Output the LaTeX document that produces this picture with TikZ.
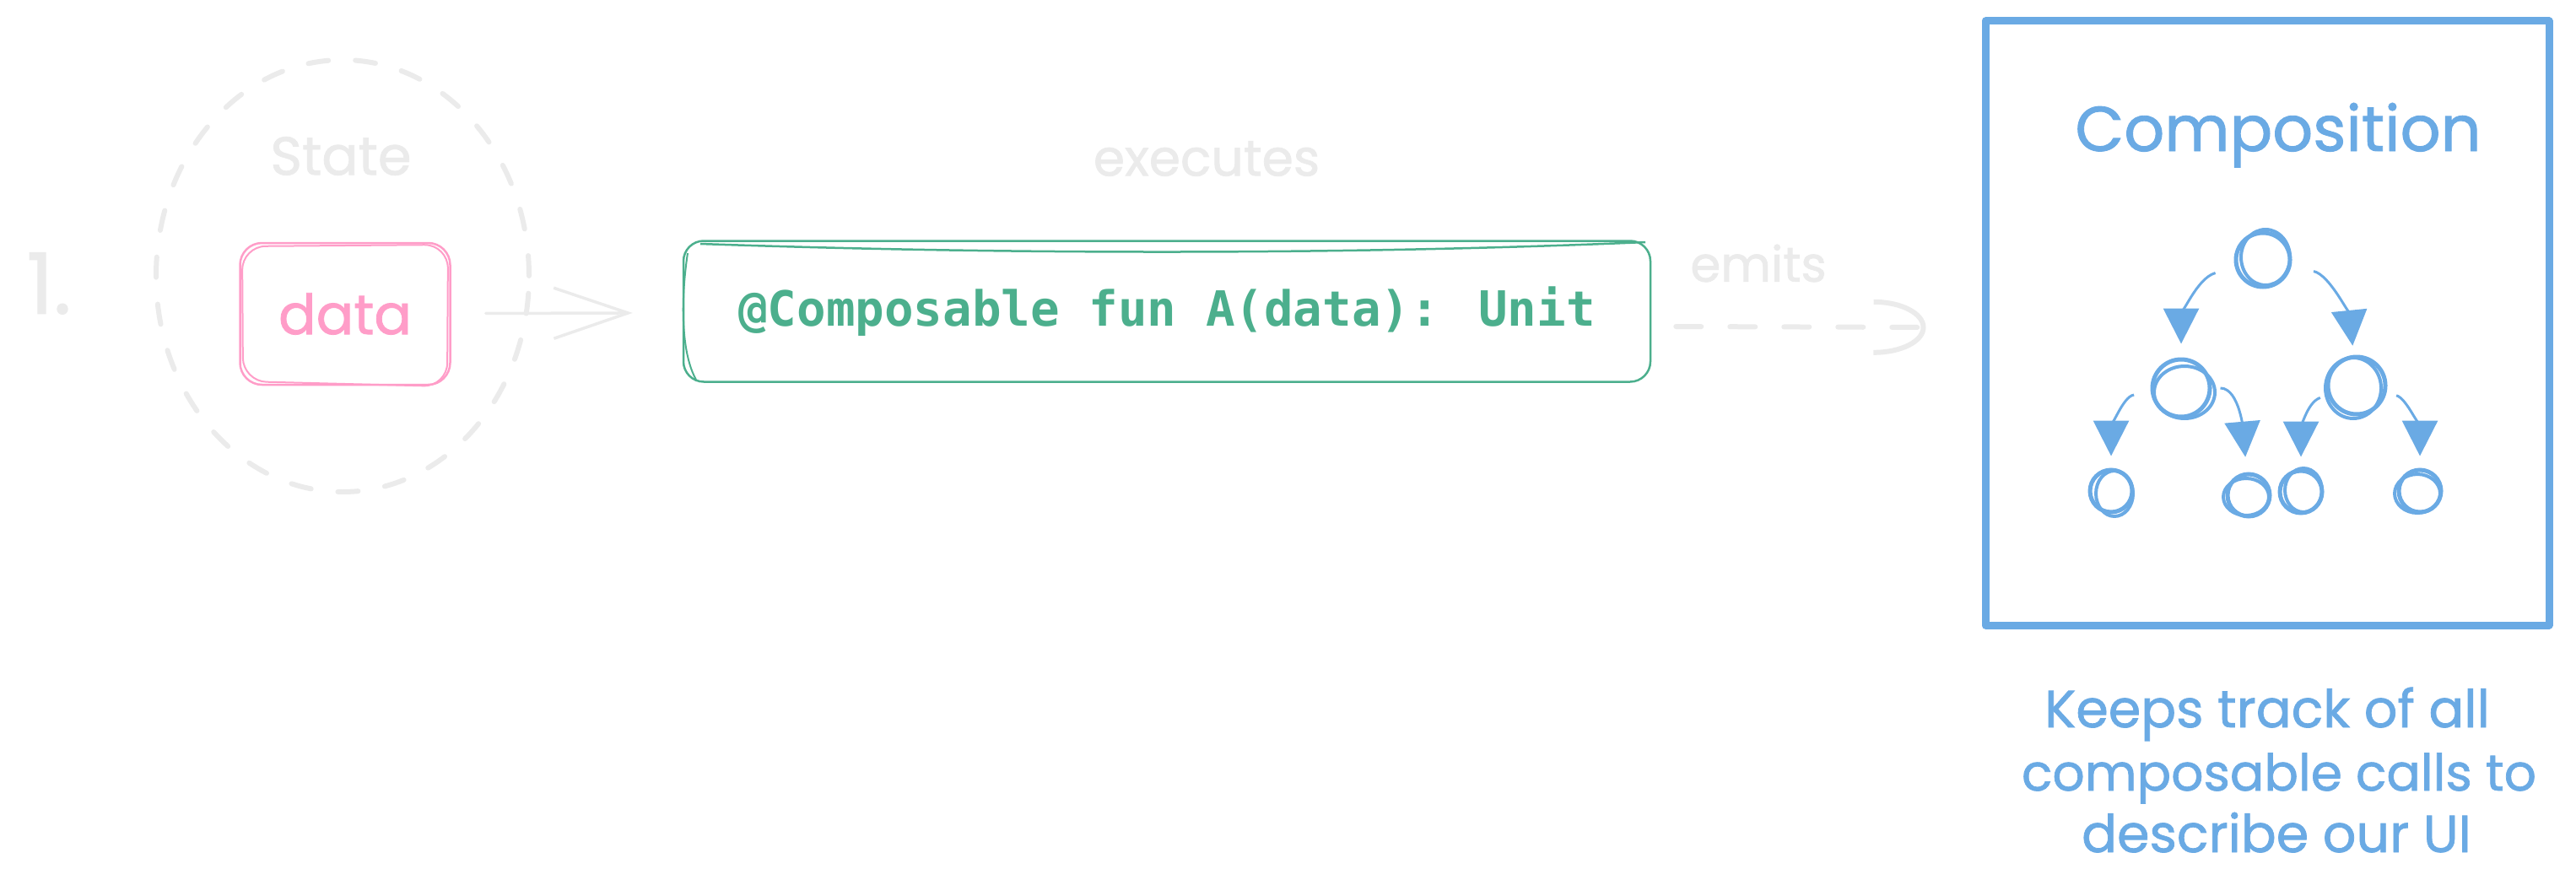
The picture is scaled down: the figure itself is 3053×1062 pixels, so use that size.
\documentclass[tikz,border=0pt]{standalone}
\usepackage{fontspec}
\setmainfont{Poppins}[FakeBold=1.2]
\newfontfamily\codefont{DejaVu Sans Mono}
\usetikzlibrary{arrows.meta,shapes.geometric}
\definecolor{sketchgray}{HTML}{EBEBEB}
\definecolor{pinkc}{HTML}{FF9DC8}
\definecolor{greenc}{HTML}{4CAF8D}
\definecolor{bluec}{HTML}{6AAAE4}
\tikzset{
  faint/.style={text=sketchgray, inner sep=0pt},
  treenode/.style={circle, draw=bluec, line width=5pt, inner sep=0pt},
  treearrow/.style={draw=bluec, line width=3pt, -{Triangle[length=42pt,width=42pt]}},
  grayarrow/.style={draw=sketchgray, line width=3.5pt, line cap=round, -{Straight Barb[length=88pt,width=60pt,line width=3.5pt]}},
  emitarrow/.style={draw=sketchgray, line width=6pt, line cap=round, dash pattern=on 30pt off 34pt, -{Arc Barb[length=62pt,width=66pt,line width=6pt]}},
}
\begin{document}
\begin{tikzpicture}[x=1pt,y=-1pt]
\useasboundingbox (0,0) rectangle (3053,1062);

% step number
\node[faint, font=\fontsize{100}{110}\selectfont] (num) at (58,336) {1.};

% state ellipse
\node[ellipse, draw=sketchgray, line width=6pt, line cap=round, dash pattern=on 24pt off 32pt,
      minimum width=442pt, minimum height=512pt] (st) at (406,327) {};
\node[faint, font=\fontsize{64}{70}\selectfont] (stlabel) at (404,185) {State};

% data box
\node[draw=pinkc, line width=2.5pt, rounded corners=26pt, minimum width=249pt, minimum height=168pt,
      text=pinkc, font=\fontsize{66}{70}\selectfont] (data) at (409,372) {data};
\draw[pinkc, line width=2pt, rounded corners=28pt] (287,292) -- (288,452) -- (530,458) -- (531,290) -- cycle;

% code box
\node[draw=greenc, line width=2.5pt, rounded corners=24pt, minimum width=1146pt, minimum height=167pt,
      text=greenc, font=\codefont\bfseries\fontsize{57.5}{60}\selectfont] (code) at (1383,369) {@Composable fun A(data): Unit};
\draw[greenc, line width=2.5pt] (830,289) .. controls (1200,302) and (1600,302) .. (1950,287);
\draw[greenc, line width=2pt] (815,300) .. controls (806,360) and (808,420) .. (825,450);

\node[faint, font=\fontsize{60}{66}\selectfont] (exec) at (1430,188) {executes};
\node[faint, font=\fontsize{58}{64}\selectfont] (emits) at (2084,312) {emits};

% composition box
\node[draw=bluec, line width=9pt, line join=round, minimum width=668pt, minimum height=716pt] (comp) at (2687,383) {};
\node[text=bluec, inner sep=0pt, anchor=base, font=\fontsize{75}{80}\selectfont] (ctitle) at (2700,179) {Composition};

% connectors between stages
\draw[grayarrow, shorten <=41pt, shorten >=59pt] (data) -- (code);
\draw[emitarrow] ([shift={(29,18)}]code.east) -- ([shift={(-66,5)}]comp.west);

% tree
\node[treenode, minimum size=64pt] (r) at (2682,308) {};
\node[treenode, minimum size=68pt] (ml) at (2585,460) {};
\node[treenode, minimum size=68pt] (mr) at (2793,457) {};
\node[treenode, minimum size=50pt] (l1) at (2502,582) {};
\node[treenode, minimum size=50pt] (l2) at (2665,587) {};
\node[treenode, minimum size=50pt] (l3) at (2727,583) {};
\node[treenode, minimum size=50pt] (l4) at (2868,582) {};
\foreach \n/\dx/\dy/\rx/\ry in {r/3/-3/29/33, ml/4/5/36/31, mr/-4/3/33/36, l1/4/3/22/27, l2/-3/2/27/22, l3/3/-2/22/26, l4/-3/3/27/23}
  \draw[bluec, line width=4pt] ([shift={(\dx,\dy)}]\n.center) ellipse ({\rx} and {\ry});

\draw[treearrow, shorten <=24pt, shorten >=16pt] (r) .. controls +(-80,22) and +(0,-80) .. (ml);
\draw[treearrow, shorten <=27pt, shorten >=11pt] (r) .. controls +(80,18) and +(-8,-80) .. (mr);
\draw[treearrow, shorten <=20pt, shorten >=14pt] (ml) .. controls +(-70,10) and +(0,-70) .. (l1);
\draw[treearrow, shorten <=10pt, shorten >=18pt] (ml) .. controls +(70,0) and +(-6,-70) .. (l2);
\draw[treearrow, shorten <=9pt, shorten >=14pt] (mr) .. controls +(-60,20) and +(0,-70) .. (l3);
\draw[treearrow, shorten <=12pt, shorten >=14pt] (mr) .. controls +(60,15) and +(0,-70) .. (l4);

% description
\node[text=bluec, inner sep=0pt, anchor=base, font=\fontsize{62}{74}\selectfont] (d1) at (2687,862) {Keeps track of all};
\node[text=bluec, inner sep=0pt, anchor=base, font=\fontsize{60}{74}\selectfont] (d2) at (2701,937) {composable calls to};
\node[text=bluec, inner sep=0pt, anchor=base, font=\fontsize{62}{74}\selectfont] (d3) at (2698,1010) {describe our UI};
\end{tikzpicture}
\end{document}
